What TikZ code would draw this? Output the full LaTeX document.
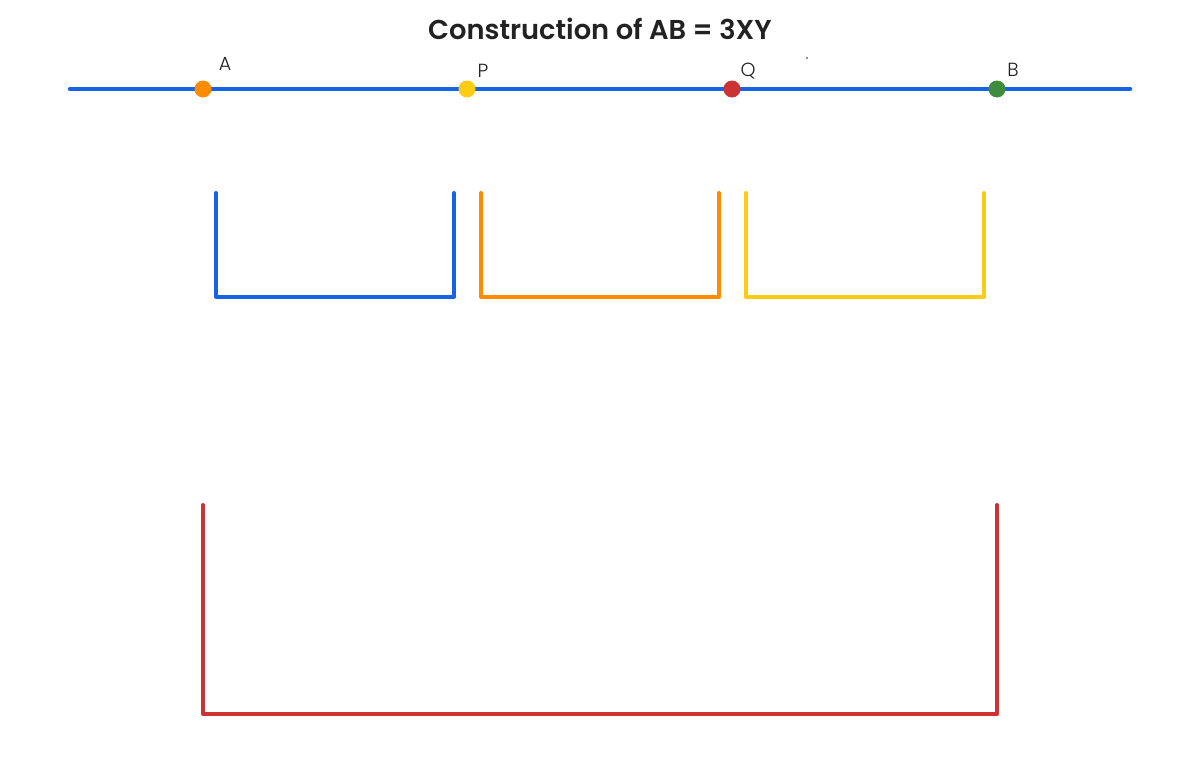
\documentclass[tikz,border=0pt]{standalone}
\usepackage{fontspec}
\setmainfont{Poppins}
\newfontfamily\titlefont{Poppins SemiBold}
\newfontfamily\labelfont{Poppins Light}
\definecolor{lineblue}{HTML}{1763E6}
\definecolor{dotorange}{HTML}{FF8C00}
\definecolor{dotyellow}{HTML}{FCCB14}
\definecolor{dotred}{HTML}{CC3333}
\definecolor{dotgreen}{HTML}{3F8C3F}
\definecolor{txt}{HTML}{222222}
\tikzset{
  ptdot/.style={circle, inner sep=0pt, minimum size=17pt},
  ptlabel/.style={font=\labelfont\fontsize{19}{19}\selectfont, text=txt, inner sep=0pt},
  brk/.style={line width=4pt, line cap=round, line join=round},
}
\begin{document}
\begin{tikzpicture}[x=1pt,y=-1pt]
\useasboundingbox (0,0) rectangle (1200,763);
\fill[white] (0,0) rectangle (1200,763);
\node[font=\titlefont\fontsize{27.3}{27.3}\selectfont, text=txt, inner sep=0pt] (title) at (600,29) {Construction of AB = 3XY};
\fill[txt] (807,58) circle (0.9);
% main line
\coordinate (L0) at (70,89);
\coordinate (L1) at (1130,89);
\draw[lineblue, line width=4.5pt, line cap=round] (L0) -- (L1);
\node[ptdot, fill=dotorange] (A) at (203,89) {};
\node[ptdot, fill=dotyellow] (P) at (467,89) {};
\node[ptdot, fill=dotred] (Q) at (732,89) {};
\node[ptdot, fill=dotgreen] (B) at (997,89) {};
\node[ptlabel] (lA) at (225,63.5) {A};
\node[ptlabel] (lP) at (483,71) {P};
\node[ptlabel] (lQ) at (748,71) {Q};
\node[ptlabel] (lB) at (1013,70) {B};
% brackets
\coordinate (b1a) at (216,193); \coordinate (b1b) at (216,296.5);
\coordinate (b1c) at (454,296.5); \coordinate (b1d) at (454,193);
\draw[brk, lineblue] (b1a) -- (b1b) -- (b1c) -- (b1d);
\coordinate (b2a) at (481,193); \coordinate (b2b) at (481,296.5);
\coordinate (b2c) at (719,296.5); \coordinate (b2d) at (719,193);
\draw[brk, dotorange] (b2a) -- (b2b) -- (b2c) -- (b2d);
\coordinate (b3a) at (745.5,193); \coordinate (b3b) at (745.5,296.5);
\coordinate (b3c) at (984,296.5); \coordinate (b3d) at (984,193);
\draw[brk, dotyellow] (b3a) -- (b3b) -- (b3c) -- (b3d);
\coordinate (b4a) at (203,505); \coordinate (b4b) at (203,714);
\coordinate (b4c) at (997,714); \coordinate (b4d) at (997,505);
\draw[brk, dotred] (b4a) -- (b4b) -- (b4c) -- (b4d);
\end{tikzpicture}
\end{document}
